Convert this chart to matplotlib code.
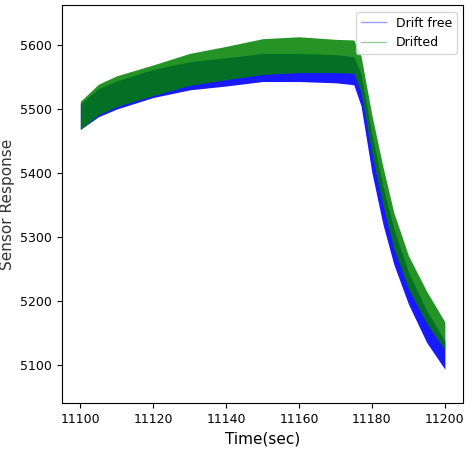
import matplotlib
matplotlib.use("Agg")
import matplotlib.pyplot as plt
from matplotlib.lines import Line2D

time = [11100, 11105, 11110, 11120, 11130, 11140, 11150, 11160, 11170, 11175, 11177, 11180, 11183, 11186, 11190, 11195, 11200]
drift_free = [5488, 5510, 5522, 5540, 5552, 5558, 5565, 5565, 5563, 5560, 5530, 5430, 5350, 5285, 5220, 5160, 5115]
drifted = [5490, 5515, 5528, 5545, 5562, 5572, 5582, 5585, 5583, 5582, 5555, 5460, 5380, 5310, 5245, 5190, 5145]
noise_free = [20, 22, 22, 22, 22, 22, 22, 22, 22, 22, 25, 30, 30, 28, 25, 25, 22]
noise_drift = [22, 24, 24, 24, 25, 26, 28, 28, 26, 26, 28, 30, 30, 28, 26, 25, 22]

fig = plt.figure(figsize=(4.74, 4.53), dpi=100)
ax = fig.add_axes([0.131, 0.11, 0.846, 0.878])
lo = [m - n for m, n in zip(drift_free, noise_free)]
hi = [m + n for m, n in zip(drift_free, noise_free)]
ax.fill_between(time, lo, hi, color="blue", alpha=0.9, lw=0)
lo2 = [m - n for m, n in zip(drifted, noise_drift)]
hi2 = [m + n for m, n in zip(drifted, noise_drift)]
ax.fill_between(time, lo2, hi2, color="green", alpha=0.85, lw=0)

ax.set_xlim(11095, 11205)
ax.set_ylim(5040, 5662)
ax.set_xticks([11100, 11120, 11140, 11160, 11180, 11200])
ax.set_yticks([5100, 5200, 5300, 5400, 5500, 5600])
ax.tick_params(labelsize=9)
ax.set_xlabel("Time(sec)", fontsize=11)
ax.set_ylabel("Sensor Response", fontsize=11, color="#333333")
handles = [Line2D([], [], color="blue", lw=1, alpha=0.4), Line2D([], [], color="green", lw=1, alpha=0.4)]
ax.legend(handles, ["Drift free", "Drifted"], loc="upper right", fontsize=9)
fig.savefig("out.png", dpi=100)
